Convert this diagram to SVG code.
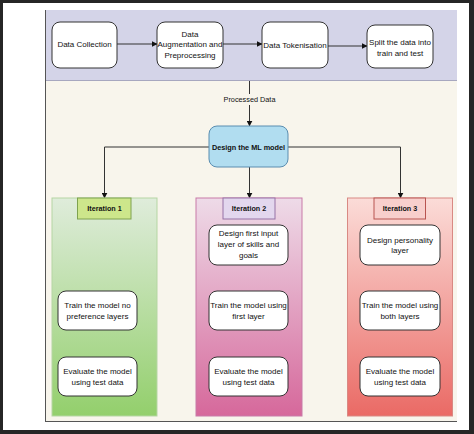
<svg xmlns="http://www.w3.org/2000/svg" width="474" height="434" viewBox="0 0 474 434">
<defs>
<marker id="arr" viewBox="0 0 10 10" refX="9" refY="5" markerWidth="6" markerHeight="6" orient="auto" markerUnits="userSpaceOnUse">
<path d="M0,0 L10,5 L0,10 z" fill="#111"/>
</marker>
<linearGradient id="g1" x1="0" y1="0" x2="0" y2="1"><stop offset="0" stop-color="#dfecdb"/><stop offset="1" stop-color="#93cf6c"/></linearGradient>
<linearGradient id="g2" x1="0" y1="0" x2="0" y2="1"><stop offset="0" stop-color="#eedbe8"/><stop offset="1" stop-color="#d6689b"/></linearGradient>
<linearGradient id="g3" x1="0" y1="0" x2="0" y2="1"><stop offset="0" stop-color="#fbdcd8"/><stop offset="1" stop-color="#ea6a65"/></linearGradient>
<style>
text{font-family:"Liberation Sans",Arial,sans-serif;font-size:8px;fill:#111;text-anchor:middle;dominant-baseline:central}
.b{font-weight:bold;font-size:7.2px}
.box{fill:#fff;stroke:#333;stroke-width:1}
.conn{fill:none;stroke:#333;stroke-width:1}
</style>
</defs>
<rect x="0" y="0" width="474" height="434" fill="#262626"/>
<rect x="3" y="3" width="466" height="427" fill="#fff"/>
<rect x="45" y="10" width="412" height="71" fill="#d4d4e8"/>
<rect x="45" y="81" width="412" height="340" fill="#f8f5ec"/>
<line x1="45" y1="80.5" x2="457" y2="80.5" stroke="#a7a7bf" stroke-width="1"/>
<line x1="45.5" y1="10" x2="45.5" y2="421" stroke="#555" stroke-width="1"/>
<line x1="45" y1="421.5" x2="457" y2="421.5" stroke="#555" stroke-width="1"/>

<g id="connectors">
<line class="conn" x1="117" y1="44" x2="157" y2="44" marker-end="url(#arr)"/>
<line class="conn" x1="223" y1="44" x2="262" y2="44" marker-end="url(#arr)"/>
<line class="conn" x1="328" y1="46" x2="367" y2="46" marker-end="url(#arr)"/>
<line class="conn" x1="249.5" y1="81" x2="249.5" y2="126" marker-end="url(#arr)"/>
<rect x="222" y="94" width="55" height="11" fill="#f8f5ec"/>
<text x="249.5" y="99.5" style="font-size:7.3px">Processed Data</text>
<polyline class="conn" points="209,147 104.5,147 104.5,198" marker-end="url(#arr)"/>
<polyline class="conn" points="288,147 400.5,147 400.5,198" marker-end="url(#arr)"/>
<line class="conn" x1="249.5" y1="167" x2="249.5" y2="198" marker-end="url(#arr)"/>
</g>

<g id="data-collection"><rect class="box" x="52" y="22" width="65" height="46" rx="8"/><text x="84.5" y="44">Data Collection</text></g>
<g id="data-augmentation"><rect class="box" x="157" y="22" width="66" height="46" rx="8"/><text x="190" y="34">Data</text><text x="190" y="44.5">Augmentation and</text><text x="190" y="55">Preprocessing</text></g>
<g id="data-tokenisation"><rect class="box" x="262" y="22" width="66" height="46" rx="8"/><text x="295" y="45">Data Tokenisation</text></g>
<g id="split"><rect class="box" x="367" y="25" width="66" height="43" rx="8"/><text x="400" y="42.5">Split the data into</text><text x="400" y="53">train and test</text></g>

<g id="design-ml"><rect x="209" y="126" width="79" height="41" rx="8" fill="#b1ddf0" stroke="#5a8db0"/><text class="b" x="248.5" y="147" style="font-size:7.3px">Design the ML model</text></g>

<g id="iteration-1">
<rect x="52" y="198" width="105" height="218" fill="url(#g1)" stroke="#b5d6a3"/>
<rect x="77.5" y="198" width="53.5" height="21" fill="#cde68b" stroke="#7ea24e"/>
<text class="b" x="104.5" y="208.5">Iteration 1</text>
</g>
<g id="iter1-train"><rect class="box" x="58" y="291" width="79" height="39" rx="8"/><text x="97.5" y="305">Train the model no</text><text x="97.5" y="316">preference layers</text></g>
<g id="iter1-eval"><rect class="box" x="58" y="357" width="79" height="39" rx="8"/><text x="97.5" y="371.5">Evaluate the model</text><text x="97.5" y="382">using test data</text></g>

<g id="iteration-2">
<rect x="196" y="198" width="106" height="218" fill="url(#g2)" stroke="#c87aa8"/>
<rect x="223" y="198" width="52" height="21" fill="#e3d7ee" stroke="#9673a6"/>
<text class="b" x="249" y="208.5">Iteration 2</text>
</g>
<g id="iter2-design"><rect class="box" x="209" y="225" width="79" height="40" rx="8"/><text x="248.5" y="233.5">Design first input</text><text x="248.5" y="244">layer of skills and</text><text x="248.5" y="255">goals</text></g>
<g id="iter2-train"><rect class="box" x="209" y="291" width="79" height="39" rx="8"/><text x="248.5" y="305">Train the model using</text><text x="248.5" y="316">first layer</text></g>
<g id="iter2-eval"><rect class="box" x="209" y="357" width="79" height="39" rx="8"/><text x="248.5" y="371.5">Evaluate the model</text><text x="248.5" y="382">using test data</text></g>

<g id="iteration-3">
<rect x="347.5" y="198" width="105" height="218" fill="url(#g3)" stroke="#d98983"/>
<rect x="374" y="198" width="51.5" height="21" fill="#f8cfcc" stroke="#b85450"/>
<text class="b" x="400" y="208.5">Iteration 3</text>
</g>
<g id="iter3-design"><rect class="box" x="360" y="225" width="80" height="40" rx="8"/><text x="400" y="240">Design personality</text><text x="400" y="250.5">layer</text></g>
<g id="iter3-train"><rect class="box" x="360" y="291" width="80" height="39" rx="8"/><text x="400" y="305">Train the model using</text><text x="400" y="316">both layers</text></g>
<g id="iter3-eval"><rect class="box" x="360" y="357" width="80" height="39" rx="8"/><text x="400" y="371.5">Evaluate the model</text><text x="400" y="382">using test data</text></g>
</svg>
